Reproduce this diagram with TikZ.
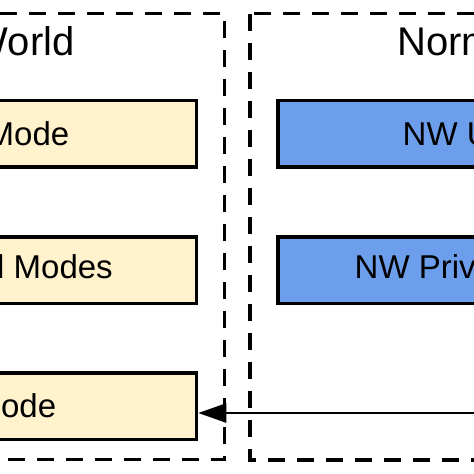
\documentclass[tikz,border=0pt]{standalone}
\usepackage{fontspec}
\setmainfont{Liberation Sans}
\usetikzlibrary{arrows.meta}
\definecolor{swfill}{HTML}{FFF2CC}
\definecolor{nwfill}{HTML}{6D9EEB}
\begin{document}
\begin{tikzpicture}[x=1pt,y=-1pt,
  worldframe/.style={draw=black, line width=3.5pt, dash pattern=on 17pt off 12pt},
  modebox/.style={draw=black, line width=3.5pt, minimum height=66.5pt, minimum width=330pt, inner sep=0pt},
  swbox/.style={modebox, fill=swfill},
  nwbox/.style={modebox, fill=nwfill},
  boxlabel/.style={inner sep=0pt, font=\fontsize{33}{39}\selectfont},
  worldlabel/.style={inner sep=0pt, font=\fontsize{40}{48}\selectfont},
  callarrow/.style={draw=black, line width=2.5pt, -{Triangle[length=28pt,width=19pt]}}
]
\useasboundingbox (0,0) rectangle (474,474);
\clip (0,0) rectangle (474,474);
\fill[white] (0,0) rectangle (474,474);
% world frames
\draw[worldframe] (-300,13.5) rectangle (224.5,459.5);
\draw[worldframe] (250,13.5) rectangle (800,460);
% boxes
\node[swbox] (swuser) at (31.5,133.75) {};
\node[swbox] (swpriv) at (31.5,270.25) {};
\node[swbox] (mon) at (31.5,406) {};
\node[nwbox] (nwuser) at (443,133.75) {};
\node[nwbox] (nwpriv) at (443,270.25) {};
% labels
\node[worldlabel, anchor=base east] (swtitle) at (74.8,55) {Secure World};
\node[worldlabel, anchor=base west] (nwtitle) at (397,55) {Normal World};
\node[boxlabel, anchor=base east] (swuserl) at (69.5,145.5) {SW User Mode};
\node[boxlabel, anchor=base east] (swprivl) at (113,278.5) {SW Privileged Modes};
\node[boxlabel, anchor=base east] (monl) at (56.4,417) {Monitor Mode};
\node[boxlabel, anchor=base west] (nwuserl) at (402.5,145.5) {NW User Mode};
\node[boxlabel, anchor=base west] (nwprivl) at (354.5,278.5) {NW Privileged Modes};
% arrow
\coordinate (src) at (520,413);
\draw[callarrow] (src) -- (src -| mon.east);
\end{tikzpicture}
\end{document}
